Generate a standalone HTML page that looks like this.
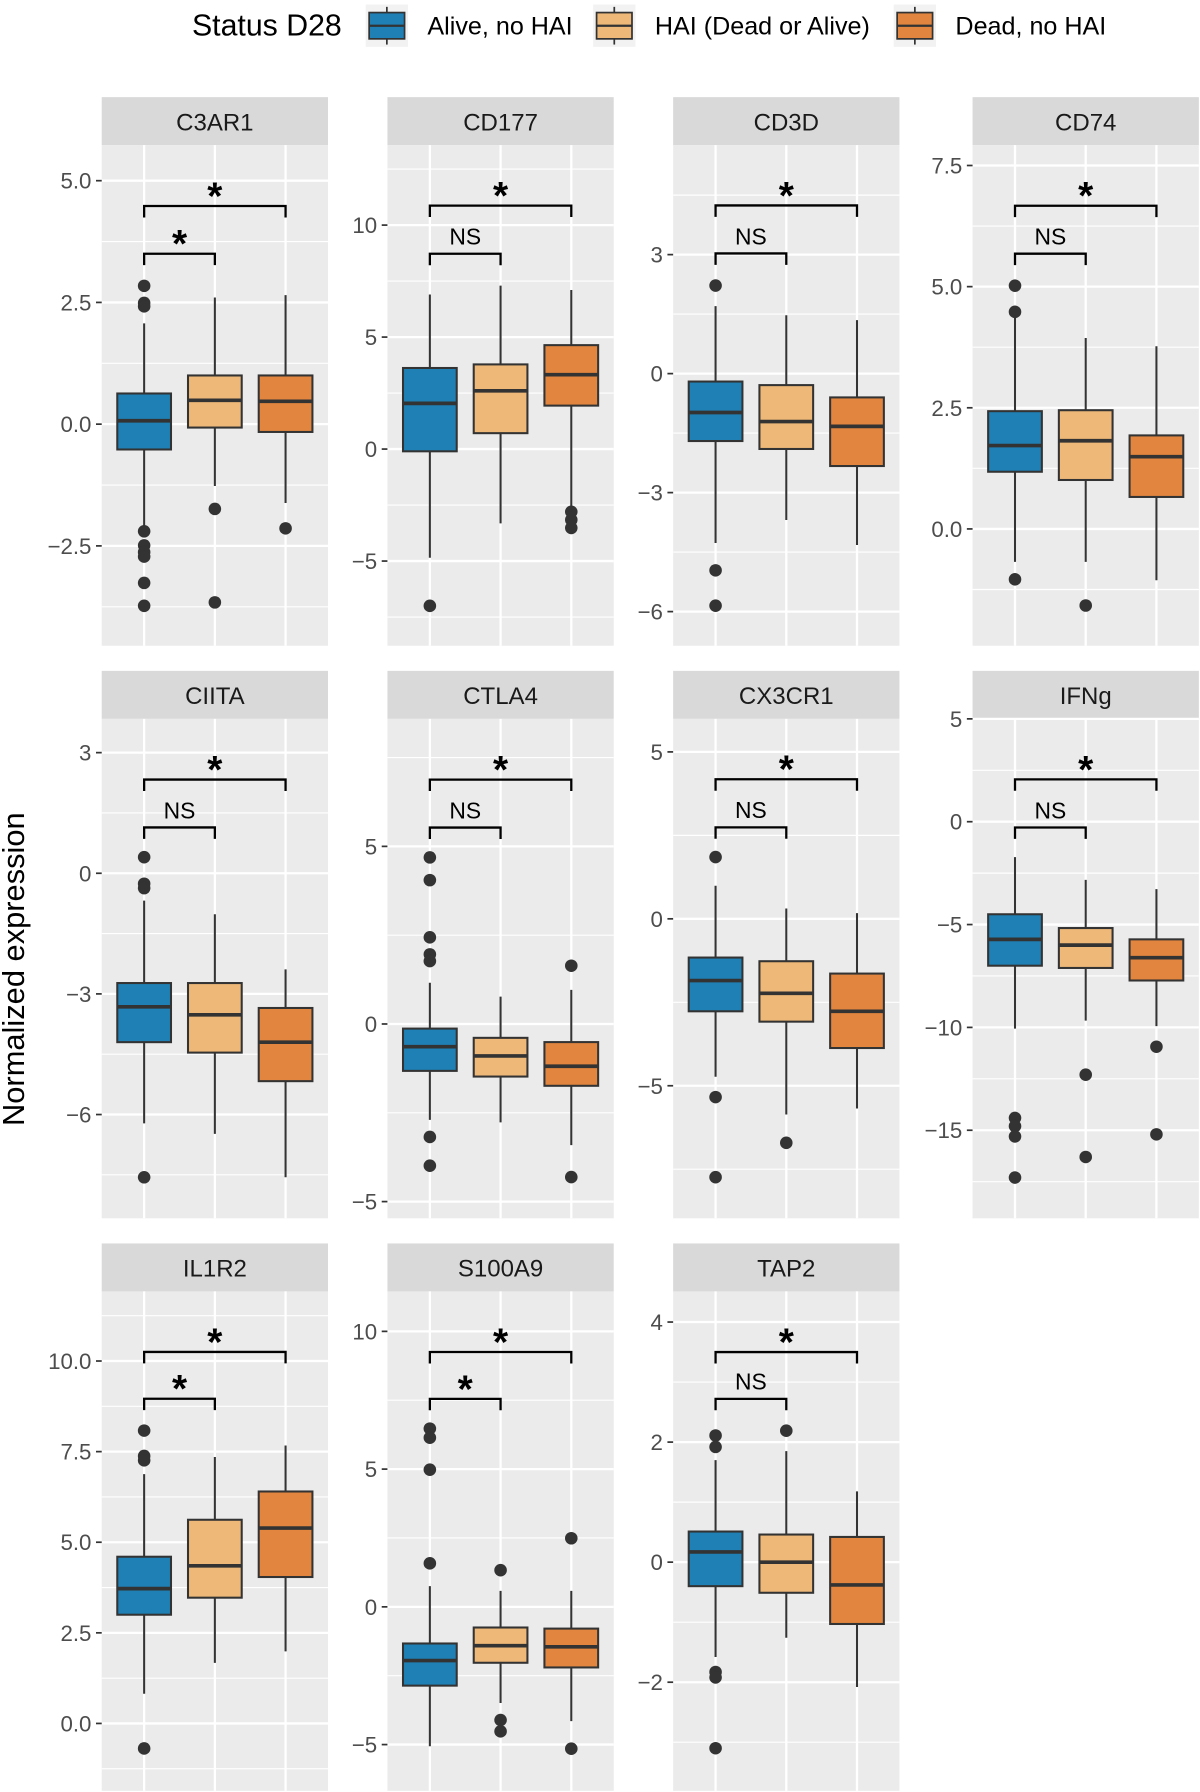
<!DOCTYPE html>
<html><head><meta charset="utf-8"><style>
html,body{margin:0;padding:0;background:#fff;}
svg{display:block;font-family:"Liberation Sans",Arial,sans-serif;}
</style></head><body>
<svg id="chart" width="1200" height="1792" viewBox="0 0 1050 1568"></svg>
<script>
const genes = ["C3AR1","CD177","CD3D","CD74","CIITA","CTLA4","CX3CR1","IFNg","IL1R2","S100A9","TAP2"];
const groups = ["Alive, no HAI","HAI (Dead or Alive)","Dead, no HAI"];
const groupColors = ["#1F80B5","#EDB878","#E2863F"];
const yMin = [-4.55,-8.78,-6.86,-2.41,-8.58,-5.47,-8.97,-19.28,-1.86,-6.68,-3.81];
const yMax = [5.73,13.57,5.76,7.92,3.84,8.59,5.99,5.0,11.92,11.45,4.51];
const tickValues = [[-2.5,0,2.5,5],[-5,0,5,10],[-6,-3,0,3],[0,2.5,5,7.5],[-6,-3,0,3],[-5,0,5],[-5,0,5],[-15,-10,-5,0,5],[0,2.5,5,7.5,10],[-5,0,5,10],[-2,0,2,4]];
const tickLabels = [["−2.5","0.0","2.5","5.0"],["−5","0","5","10"],["−6","−3","0","3"],["0.0","2.5","5.0","7.5"],["−6","−3","0","3"],["−5","0","5"],["−5","0","5"],["−15","−10","−5","0","5"],["0.0","2.5","5.0","7.5","10.0"],["−5","0","5","10"],["−2","0","2","4"]];
const whiskLow = [[-2.09,-1.27,-1.62],[-4.85,-3.32,-2.65],[-4.27,-3.69,-4.32],[-0.68,-0.68,-1.06],[-6.22,-6.48,-7.56],[-2.7,-2.77,-3.41],[-4.73,-5.86,-5.68],[-10.06,-9.67,-9.94],[0.82,1.67,1.99],[-5.06,-3.49,-4.15],[-1.58,-1.26,-2.08]];
const q1 = [[-0.52,-0.07,-0.16],[-0.1,0.71,1.94],[-1.7,-1.9,-2.33],[1.18,1.01,0.66],[-4.2,-4.46,-5.17],[-1.32,-1.48,-1.74],[-2.77,-3.08,-3.87],[-7.0,-7.11,-7.72],[3.0,3.47,4.04],[-2.86,-2.03,-2.2],[-0.4,-0.51,-1.03]];
const median = [[0.07,0.49,0.47],[2.04,2.6,3.32],[-0.98,-1.21,-1.33],[1.72,1.82,1.49],[-3.32,-3.52,-4.2],[-0.64,-0.9,-1.19],[-1.85,-2.23,-2.77],[-5.72,-6.0,-6.61],[3.72,4.35,5.39],[-1.95,-1.41,-1.45],[0.17,0,-0.38]];
const q3 = [[0.63,1.0,1.0],[3.62,3.78,4.64],[-0.2,-0.29,-0.6],[2.43,2.45,1.93],[-2.73,-2.73,-3.35],[-0.13,-0.39,-0.51],[-1.16,-1.27,-1.64],[-4.5,-5.17,-5.72],[4.6,5.62,6.4],[-1.33,-0.75,-0.79],[0.51,0.46,0.42]];
const whiskHigh = [[2.07,2.6,2.65],[6.9,7.3,7.1],[1.7,1.47,1.35],[4.6,3.94,3.77],[-0.68,-1.02,-2.39],[1.16,0.77,0.96],[0.99,0.31,0.17],[-1.72,-2.83,-3.28],[6.88,7.35,7.67],[0.75,0.58,0.58],[1.7,1.85,1.18]];
const outliers = [
 [[2.84,2.49,2.42,-2.2,-2.49,-2.63,-2.72,-3.26,-3.73],[-1.74,-3.66],[-2.14]],
 [[-7.0],[],[-2.8,-3.16,-3.52]],
 [[2.22,-4.96,-5.85],[],[]],
 [[5.02,4.48,-1.04],[-1.58],[]],
 [[0.4,-0.26,-0.37,-7.56],[],[]],
 [[4.69,4.05,2.44,1.96,1.77,-3.18,-3.99],[],[1.64,-4.31]],
 [[1.85,-5.34,-7.74],[-6.71],[]],
 [[-14.4,-14.8,-15.3,-17.3],[-12.3,-16.3],[-10.94,-15.2]],
 [[8.08,7.38,7.26,-0.69],[],[]],
 [[6.47,6.14,4.98,1.58],[1.33,-4.11,-4.52],[2.49,-5.15]],
 [[2.11,1.92,-1.83,-1.92,-3.1],[2.19],[]]
];
const bracketTopY = [4.48,10.87,4.24,6.67,2.33,6.88,4.18,2.06,10.25,9.25,3.5];
const bracketLowY = [3.5,8.72,3.03,5.68,1.14,5.53,2.74,-0.28,8.96,7.55,2.72];
const bracketTopLabel = ["*","*","*","*","*","*","*","*","*","*","*"];
const bracketLowLabel = ["*","NS","NS","NS","NS","NS","NS","NS","*","*","NS"];

const svg = document.getElementById('chart');
const NS = 'http://www.w3.org/2000/svg';
function mk(tag, attrs, parent){const e=document.createElementNS(NS,tag);for(const k in attrs)e.setAttribute(k,attrs[k]);(parent||svg).appendChild(e);return e;}
const colX = [89,339,589,851], stripTop=[85,587,1088], plotBottom=[565,1066,1567];
const PW=198, SH=42;

let t=mk('text',{x:168,y:31,'font-size':26.5,fill:'#000'});t.textContent='Status D28';

const keyX=[320,519,782], textX=[374,573,836];
groups.forEach((g,i)=>{
  const grp=mk('g',{});
  
  
  mk('rect',{x:keyX[i],y:4,width:37,height:37,fill:'#F2F2F2'},grp);
  mk('line',{x1:keyX[i]+18.5,x2:keyX[i]+18.5,y1:6,y2:39,stroke:'#333','stroke-width':1.5},grp);
  mk('rect',{x:keyX[i]+3,y:11,width:31,height:23,fill:groupColors[i],stroke:'#333','stroke-width':1.5},grp);
  mk('line',{x1:keyX[i]+3,x2:keyX[i]+34,y1:22.5,y2:22.5,stroke:'#333','stroke-width':2},grp);
  const tt=mk('text',{x:textX[i],y:30,'font-size':22,fill:'#000'},grp);tt.textContent=g;
});
t=mk('text',{x:0,y:0,'font-size':27,fill:'#000','text-anchor':'middle',transform:'translate(21,848) rotate(-90)'});
t.textContent='Normalized expression';


genes.forEach((gene,p)=>{
  const row=Math.floor(p/4), col=p%4;
  const x0=colX[col], st=stripTop[row], top=st+SH, bot=plotBottom[row];
  const ys=v=>bot-(v-yMin[p])/(yMax[p]-yMin[p])*(bot-top);
  const xs=i=>x0+PW*(0.6+i)/3.2;
  const g=mk('g',{});
  
  
  mk('rect',{x:x0,y:st,width:PW,height:SH,fill:'#D9D9D9'},g);
  const s=mk('text',{x:x0+PW/2,y:st+29,'font-size':21,fill:'#1A1A1A','text-anchor':'middle'},g);s.textContent=gene;
  
  mk('rect',{x:x0,y:top,width:PW,height:bot-top,fill:'#EBEBEB'},g);
  const tv=tickValues[p], step=tv[1]-tv[0];
  const minors=[tv[0]-step/2].concat(tv.map(v=>v+step/2));
  minors.forEach(v=>{const y=ys(v);if(y>top&&y<bot)mk('line',{x1:x0,x2:x0+PW,y1:y,y2:y,stroke:'#fff','stroke-width':1},g);});
  tv.forEach((v,k)=>{const y=ys(v);
    mk('line',{x1:x0,x2:x0+PW,y1:y,y2:y,stroke:'#fff','stroke-width':2},g);
    mk('line',{x1:x0-5,x2:x0,y1:y,y2:y,stroke:'#333','stroke-width':1.5},g);
    const tl=mk('text',{x:x0-9,y:y+7,'font-size':19.5,fill:'#4D4D4D','text-anchor':'end'},g);tl.textContent=tickLabels[p][k];
  });
  [0,1,2].forEach(i=>mk('line',{x1:xs(i),x2:xs(i),y1:top,y2:bot,stroke:'#fff','stroke-width':2},g));
  [0,1,2].forEach(i=>{
    const cx=xs(i), bw=47;
    const b=mk('g',{},g);
    
    
    mk('line',{x1:cx,x2:cx,y1:ys(whiskHigh[p][i]),y2:ys(whiskLow[p][i]),stroke:'#333','stroke-width':1.8},b);
    mk('rect',{x:cx-bw/2,y:ys(q3[p][i]),width:bw,height:ys(q1[p][i])-ys(q3[p][i]),fill:groupColors[i],stroke:'#333','stroke-width':1.8},b);
    mk('line',{x1:cx-bw/2,x2:cx+bw/2,y1:ys(median[p][i]),y2:ys(median[p][i]),stroke:'#333','stroke-width':3.2},b);
    outliers[p][i].forEach(v=>mk('circle',{cx:cx,cy:ys(v),r:5.5,fill:'#333'},b));
  });
  const br=[[bracketTopY[p],2,bracketTopLabel[p]],[bracketLowY[p],1,bracketLowLabel[p]]];
  br.forEach(([v,j,lab])=>{
    const y=ys(v), xa=xs(0), xb=xs(j);
    const bg=mk('g',{},g);
    
    
    mk('path',{d:`M${xa},${y+10}V${y}H${xb}V${y+10}`,fill:'none',stroke:'#000','stroke-width':2},bg);
    const lt=mk('text',{x:(xa+xb)/2,y:lab==='*'?y+3:y-8,'font-size':lab==='*'?34:20,'font-weight':lab==='*'?'bold':'normal',fill:'#000','text-anchor':'middle'},bg);
    lt.textContent=lab;
  });
});
</script>
</body></html>
